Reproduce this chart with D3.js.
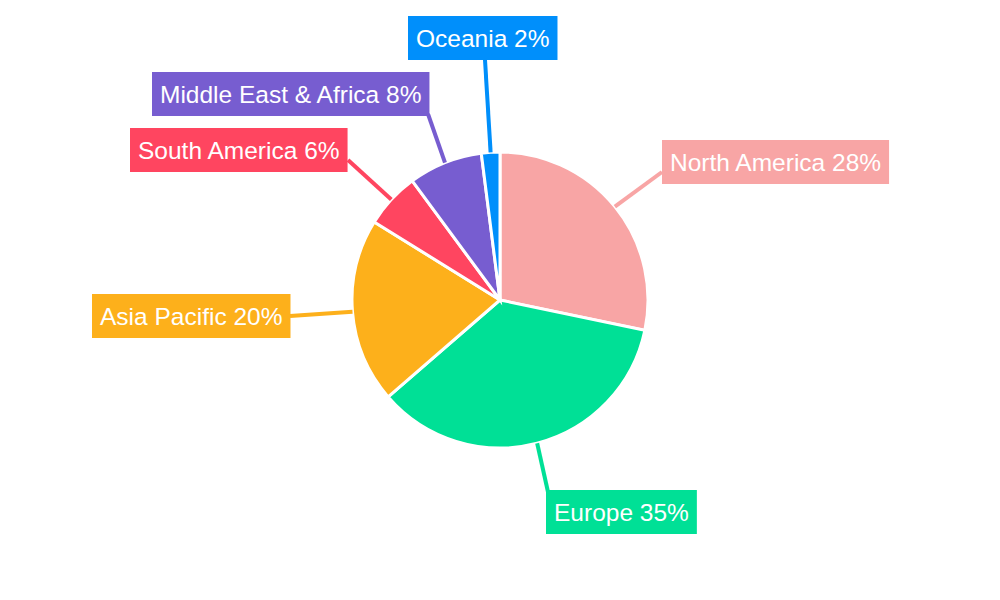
<!DOCTYPE html>
<html><head><meta charset="utf-8">
<script src="https://cdn.jsdelivr.net/npm/d3@7"></script>
<style>body{margin:0;background:#fff}text{font-family:"Liberation Sans",Arial,sans-serif}</style>
</head><body>
<svg id="chart" width="1000" height="600"></svg>
<script>
var regions = ["North America", "Europe", "Asia Pacific", "South America", "Middle East & Africa", "Oceania"];
var shares = [28, 35, 20, 6, 8, 2];
var colors = ["#f8a5a5", "#00e096", "#fdb01b", "#ff4560", "#775dd0", "#008ffb"];
// label box left/top and leader end point
var labelPos = [[662, 140, 662, 172], [546, 490, 548, 492], [92, 294, 290, 316],
                [130, 128, 348, 160], [152, 72, 428, 114], [408, 16, 485, 60]];

var svg = d3.select("#chart");
var cx = 500, cy = 300, r = 148;
var g = svg.append("g").attr("transform", "translate(" + cx + "," + cy + ")");
var pie = d3.pie().sort(null).value(function (d) { return d; });
var arcs = pie(shares);
var arc = d3.arc().innerRadius(0).outerRadius(r);

g.selectAll("path").data(arcs).enter().append("path")
  .attr("d", arc)
  .attr("fill", function (d, i) { return colors[i]; })
  .attr("stroke", "#fff").attr("stroke-width", 3);

arcs.forEach(function (d, i) {
  var a = (d.startAngle + d.endAngle) / 2;
  var x0 = cx + Math.sin(a) * r, y0 = cy - Math.cos(a) * r;
  var p = labelPos[i];
  svg.append("line").attr("x1", x0).attr("y1", y0).attr("x2", p[2]).attr("y2", p[3])
    .attr("stroke", colors[i]).attr("stroke-width", 4);
  var label = regions[i] + " " + shares[i] + "%";
  var t = svg.append("text").attr("x", p[0] + 8).attr("y", p[1] + 31)
    .attr("font-size", 24.5).attr("fill", "#fff").text(label);
  var w = t.node().getComputedTextLength();
  svg.insert("rect", "text").attr("x", p[0]).attr("y", p[1]).attr("width", w + 16).attr("height", 44)
    .attr("fill", colors[i]);
});
</script>
</body></html>
